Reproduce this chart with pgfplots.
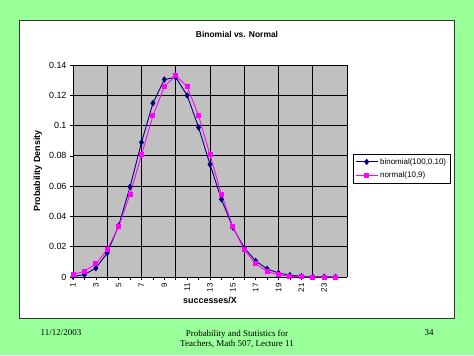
\documentclass[border=0pt]{standalone}
\usepackage{pgfplots}
\pgfplotsset{compat=1.18}
\usepackage{fontspec}
\setmainfont{Liberation Sans}
\newfontfamily\serif{Liberation Serif}
\definecolor{bg}{RGB}{153,255,153}
\definecolor{plotgray}{RGB}{192,192,192}
\definecolor{navyc}{RGB}{0,0,128}
\definecolor{magc}{RGB}{255,0,255}
\begin{document}
\begin{tikzpicture}[x=1bp,y=1bp]
\fill[bg] (0,0) rectangle (474,355);
\filldraw[fill=white, draw=black!80, line width=0.8bp] (19,37) rectangle (454,335);
\node[font=\bfseries\fontsize{8.5}{10}\selectfont] at (237,321) {Binomial vs. Normal};
\node[font=\serif\fontsize{9}{10.5}\selectfont] at (61,22) {11/12/2003};
\node[font=\serif\fontsize{9}{10.5}\selectfont, align=center] at (237,16) {Probability and Statistics for\\Teachers, Math 507, Lecture 11};
\node[font=\serif\fontsize{9}{10.5}\selectfont] at (429,22) {34};
\begin{axis}[
  at={(73bp,78bp)}, anchor=south west,
  width=274bp, height=212bp, scale only axis,
  xmin=1, xmax=25, ymin=0, ymax=0.14,
  clip=false,
  axis background/.style={fill=plotgray},
  axis x line*=bottom, axis y line*=left,
  axis line style={-, black, line width=0.8bp},
  tick align=outside,
  major tick length=3bp, minor tick length=3bp,
  tick style={black, line width=0.6bp},
  xtick={1,3,5,7,9,11,13,15,17,19,21,23},
  minor xtick={2,4,6,8,10,12,14,16,18,20,22,24},
  xticklabel style={rotate=90, anchor=east, font=\fontsize{8}{9}\selectfont},
  extra x ticks={4,7,10,13,16,19,22,25},
  extra x tick labels={},
  extra x tick style={grid=major, major tick length=0pt},
  ytick={0,0.02,0.04,0.06,0.08,0.1,0.12,0.14},
  ymajorgrids,
  major grid style={black, line width=0.8bp},
  yticklabel style={font=\fontsize{9}{10}\selectfont, /pgf/number format/fixed, /pgf/number format/precision=2},
  /pgf/number format/assume math mode=true,
  scaled y ticks=false,
  xlabel={successes/X},
  xlabel style={font=\bfseries\fontsize{9}{10}\selectfont, at={(axis description cs:0.5,-0.1085)}, anchor=center},
  ylabel={Probability Density},
  ylabel style={font=\bfseries\fontsize{9}{10}\selectfont, at={(axis description cs:-0.128,0.5)}, anchor=center},
  legend style={at={(rel axis cs:1.022,0.58)}, anchor=north west, draw=black, fill=white,
    font=\fontsize{8}{9.5}\selectfont, inner sep=2bp, row sep=2bp},
  legend cell align=left,
  legend image code/.code={\draw[#1, mark repeat=2, mark phase=2] plot coordinates {(0bp,0bp) (11bp,0bp) (22bp,0bp)};},
]
\addplot[navyc, line width=0.9bp, mark=diamond*, mark size=2.6bp, mark options={fill=navyc, draw=navyc}] coordinates {
(1,0.0003) (2,0.0016) (3,0.0059) (4,0.0159) (5,0.0339) (6,0.0596) (7,0.0889) (8,0.1148)
(9,0.1304) (10,0.1319) (11,0.1199) (12,0.0988) (13,0.0743) (14,0.0513) (15,0.0327) (16,0.0193)
(17,0.0106) (18,0.0054) (19,0.0026) (20,0.0012) (21,0.0005) (22,0.0002) (23,0.0001) (24,0.0000)
};
\addlegendentry{binomial(100,0.10)}
\addplot[magc, line width=0.9bp, mark=square*, mark size=2bp, mark options={fill=magc, draw=magc}] coordinates {
(1,0.0015) (2,0.0038) (3,0.0087) (4,0.0180) (5,0.0332) (6,0.0547) (7,0.0807) (8,0.1065)
(9,0.1258) (10,0.1330) (11,0.1258) (12,0.1065) (13,0.0807) (14,0.0547) (15,0.0332) (16,0.0180)
(17,0.0087) (18,0.0038) (19,0.0015) (20,0.0005) (21,0.0002) (22,0.0000) (23,0.0000) (24,0.0000)
};
\addlegendentry{normal(10,9)}
\end{axis}
\end{tikzpicture}
\end{document}
